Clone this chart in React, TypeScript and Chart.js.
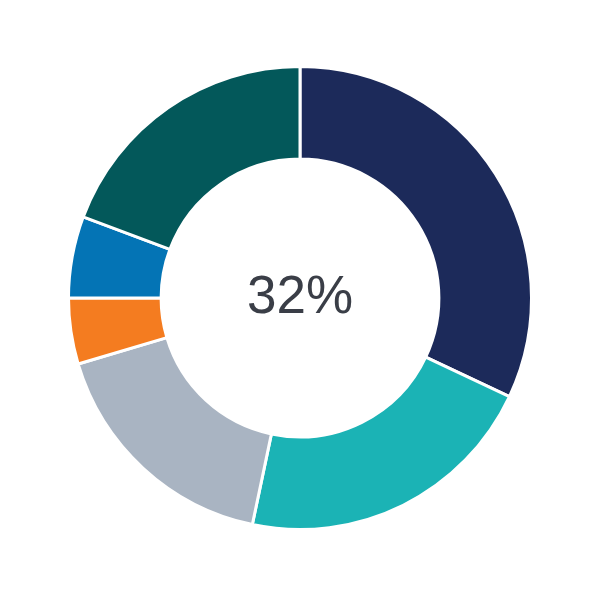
import React, { useEffect, useRef } from "react";
import { Chart, registerables } from "chart.js";

Chart.register(...registerables);

const labels = ["Navy", "Teal", "Grey", "Orange", "Blue", "Green"];
const values = [32, 21.3, 17.1, 4.6, 5.7, 19.3];
const colors = ["#1c2a5a", "#1bb3b5", "#a9b4c2", "#f47c20", "#0474b5", "#03585a"];
const centerLabel = "32%";

const centerTextPlugin = {
  id: "centerText",
  afterDraw(chart: Chart) {
    const { ctx, chartArea } = chart;
    const x = (chartArea.left + chartArea.right) / 2;
    const y = (chartArea.top + chartArea.bottom) / 2;
    ctx.save();
    ctx.font = '53px "Liberation Sans", Arial, sans-serif';
    ctx.fillStyle = "#3a3e47";
    ctx.textAlign = "center";
    ctx.textBaseline = "middle";
    ctx.fillText(centerLabel, x, y);
    ctx.restore();
  },
};

const App: React.FC = () => {
  const canvasRef = useRef<HTMLCanvasElement>(null);

  useEffect(() => {
    if (!canvasRef.current) return;
    const chart = new Chart(canvasRef.current, {
      type: "doughnut",
      data: {
        labels,
        datasets: [
          {
            data: values,
            backgroundColor: colors,
            borderColor: "#ffffff",
            borderWidth: 3,
          },
        ],
      },
      options: {
        animation: false,
        responsive: true,
        maintainAspectRatio: false,
        cutout: "60%",
        layout: { padding: 57 },
        plugins: {
          legend: { display: false },
          tooltip: { enabled: false },
        },
      },
      plugins: [centerTextPlugin],
    });
    return () => chart.destroy();
  }, []);

  return (
    <div style={{ width: 584, height: 580, position: "relative" }}>
      <canvas ref={canvasRef}></canvas>
    </div>
  );
};

export default App;
